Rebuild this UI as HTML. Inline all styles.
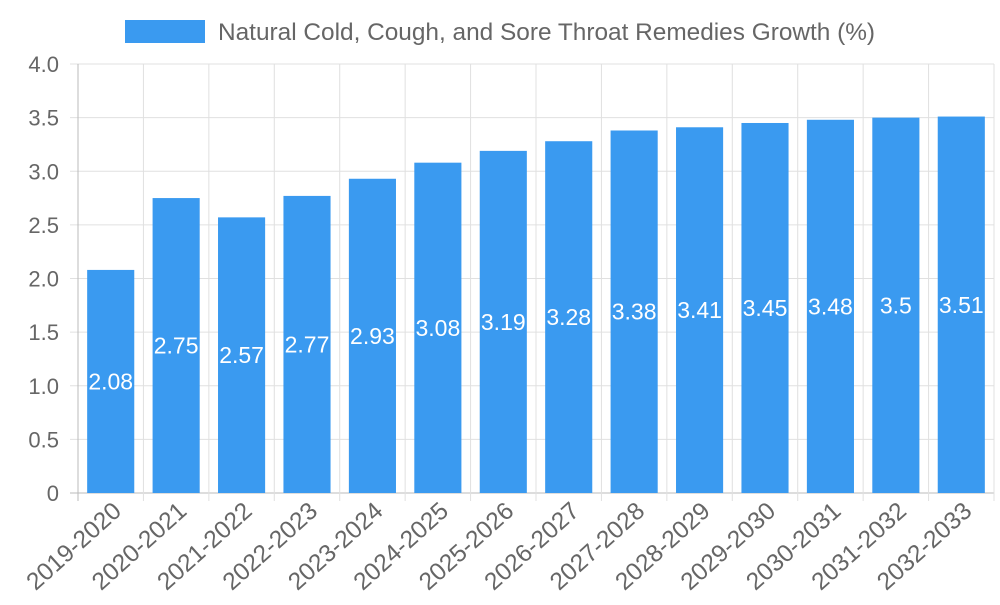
<!DOCTYPE html>
<html><head><meta charset="utf-8"><style>
body{margin:0;background:#fff;}
svg text{font-family:"Liberation Sans",sans-serif;}
</style></head><body>
<svg id="chart" width="1000" height="600"></svg>
<script>
const categories=["2019-2020","2020-2021","2021-2022","2022-2023","2023-2024","2024-2025","2025-2026","2026-2027","2027-2028","2028-2029","2029-2030","2030-2031","2031-2032","2032-2033"];
const values=[2.08,2.75,2.57,2.77,2.93,3.08,3.19,3.28,3.38,3.41,3.45,3.48,3.5,3.51];
const yTicks=[0,0.5,1,1.5,2,2.5,3,3.5,4];
const yTickLabels=["0","0.5","1.0","1.5","2.0","2.5","3.0","3.5","4.0"];
const seriesName="Natural Cold, Cough, and Sore Throat Remedies Growth (%)";

const svg=document.getElementById('chart');
const NS='http://www.w3.org/2000/svg';
const L=78,R=994,T=64,B=493,yMax=4;
const bw=(R-L)/categories.length;
const y=v=>B-(v/yMax)*(B-T);
const x=i=>L+bw*i;
function mk(tag,attrs,parent){const e=document.createElementNS(NS,tag);for(const k in attrs)e.setAttribute(k,attrs[k]);(parent||svg).appendChild(e);return e;}

yTicks.forEach((t,i)=>{
  const g=mk('line',{x1:L-8,x2:R,y1:y(t),y2:y(t),stroke:i===0?'#bbb':'#e0e0e0','stroke-width':1});
  
  
  const tx=mk('text',{x:59,y:y(t)+8,'text-anchor':'end','font-size':22,fill:'#666'});
  tx.textContent=yTickLabels[i];
  
  
});
for(let i=0;i<=categories.length;i++){
  const g=mk('line',{x1:x(i),x2:x(i),y1:T,y2:B+8,stroke:i===0?'#bbb':'#e0e0e0','stroke-width':1});
  
  
}
categories.forEach((c,i)=>{
  const cx=x(i)+bw/2, w=bw*0.72;
  const r=mk('rect',{x:cx-w/2,y:y(values[i]),width:w,height:B-y(values[i]),fill:'#3a9af0'});
  
  
  const vl=mk('text',{x:cx,y:(y(values[i])+B)/2+8,'text-anchor':'middle','font-size':23,fill:'#fff'});
  vl.textContent=values[i];
  
  
  const ax=cx+12, ay=B+20;
  const xl=mk('text',{x:ax,y:ay,'text-anchor':'end','font-size':24.5,fill:'#666',transform:`rotate(-42 ${ax} ${ay})`});
  xl.textContent=c;
  
  
});
const lb=mk('rect',{x:125,y:20,width:80,height:23,fill:'#3a9af0'});


const lt=mk('text',{x:218,y:40,'font-size':24.4,fill:'#666'});
lt.textContent=seriesName;


</script>
</body></html>
